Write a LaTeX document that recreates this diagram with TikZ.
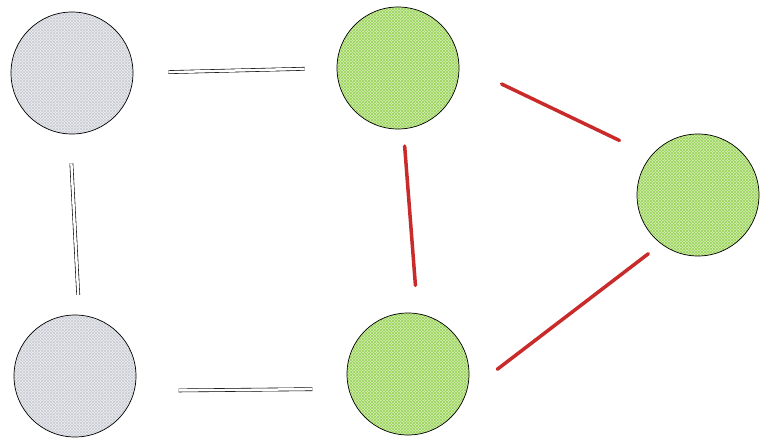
\documentclass[tikz,border=0pt]{standalone}
\usetikzlibrary{patterns}
\definecolor{leaf}{HTML}{9AD45A}
\definecolor{leaflight}{HTML}{D3EDB2}
\definecolor{ash}{HTML}{C9CDD4}
\definecolor{ashlight}{HTML}{ECEEF1}
\definecolor{mark}{HTML}{C92A2A}
\begin{document}
\begin{tikzpicture}[x=1pt, y=-1pt,
    every node/.style={circle, draw, line width=0.7pt, minimum size=122pt, inner sep=0pt},
    grey/.style={preaction={fill=ashlight}, preaction={pattern=north west lines, pattern color=ash}, pattern=north east lines, pattern color=ash},
    green/.style={preaction={fill=leaflight}, preaction={pattern=north west lines, pattern color=leaf}, pattern=north east lines, pattern color=leaf},
    plain/.style={double=white, double distance=2.5pt, line width=0.6pt},
    hot/.style={draw=mark, line width=3.5pt, line cap=round}]
    \useasboundingbox (0,0) rectangle (771,444);

    \node[grey]  (a) at (72,73)   {};
    \node[grey]  (b) at (75,376)  {};
    \node[green] (c) at (398,68)  {};
    \node[green] (d) at (408,374) {};
    \node[green] (e) at (698,195) {};

    \draw[plain, shorten <=35pt, shorten >=32pt] (a.0) -- (c.180);
    \draw[plain, shorten <=29pt, shorten >=20pt] (a.-92) -- (b.86);
    \draw[plain, shorten <=44pt, shorten >=36pt] (b.-14) -- (d.194);
    \draw[hot, shorten <=47pt, shorten >=35pt] (c.4) -- (e.140);
    \draw[hot, shorten <=17pt, shorten >=28pt] (c.-85) -- (d.81);
    \draw[hot, shorten <=39pt, shorten >=16pt] (d.-18) -- (e.-127);
  \end{tikzpicture}
\end{document}
